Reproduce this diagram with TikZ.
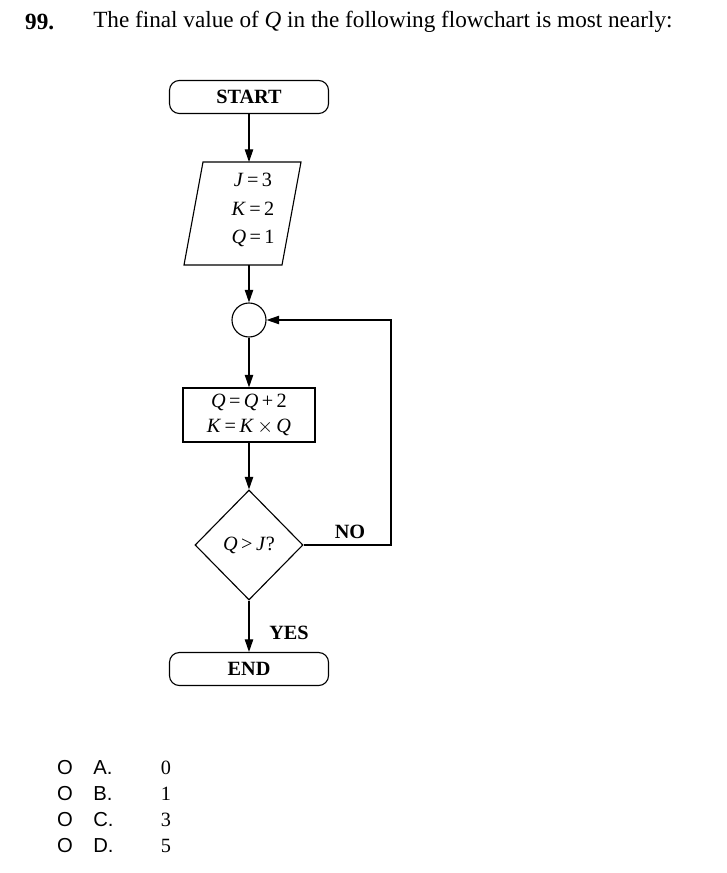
\documentclass[tikz,border=0pt]{standalone}
\usepackage{fontspec}
\setmainfont{Liberation Serif}
\newfontfamily\optfont{Liberation Sans}
\usetikzlibrary{shapes.geometric,arrows.meta}
\newcommand{\vr}[1]{\textit{#1}}
\newcommand{\eqs}{\,=\,}
\tikzset{
  term/.style={draw,rounded corners=7pt,minimum width=159\unitpx,minimum height=33\unitpx,font=\bfseries\Large},
  flow/.style={-{Triangle[length=9pt,width=6pt]},line width=0.8pt},
  opt/.style={anchor=west,font=\optfont\Large}
}
\newlength{\unitpx}\setlength{\unitpx}{0.025cm}
\begin{document}
\begin{tikzpicture}[x=0.025cm,y=-0.025cm,line width=0.8pt]
  \useasboundingbox (0,0) rectangle (726,873);
  % question
  \node[anchor=west,font=\bfseries\fontsize{16.5}{19}\selectfont] (num) at (20,22) {99.};
  \node[anchor=west,font=\fontsize{16.5}{19}\selectfont] (title) at (88,22) {The final value of \vr{Q} in the following flowchart is most nearly:};
  % flowchart
  \node[term] (start) at (249,97) {START};
  \draw (203,162) coordinate (p1) -- (301,162) -- (282,265) -- (184,265) -- cycle;
  \node[align=center,font=\Large,inner sep=0pt] (init) at (253,210) {\vr{J}\eqs3\\[2pt]\vr{K}\eqs2\\[2pt]\vr{Q}\eqs1};
  \coordinate (inittop) at (249,162);
  \coordinate (initbot) at (249,265);
  \node[draw,circle,minimum size=34\unitpx,inner sep=0pt] (join) at (249,320) {};
  \node[draw,minimum width=132\unitpx,minimum height=54\unitpx,align=center,font=\Large,inner sep=1pt] (calc) at (249,415) {\vr{Q}\eqs\vr{Q}\,+\,2\\\vr{K}\eqs\vr{K}\,$\times$\,\vr{Q}};
  \node[draw,diamond,minimum width=108\unitpx,minimum height=110\unitpx,inner sep=0pt,font=\Large] (test) at (249,545) {\vr{Q}\,>\,\vr{J}?};
  \node[term] (end) at (249,669) {END};
  \coordinate (loop1) at (391,545);
  \coordinate (loop2) at (391,320);
  \draw[flow] (start) -- (inittop);
  \draw[flow] (initbot) -- (join);
  \draw[flow] (join) -- (calc);
  \draw[flow] (calc) -- (test);
  \draw[flow] (test) -- (end);
  \draw[flow] (test.east) -- (loop1) -- (loop2) -- (join);
  \node[font=\bfseries\Large] (no) at (350,532) {NO};
  \node[font=\bfseries\Large] (yes) at (289,633) {YES};
  % answers
  \foreach \i/\l/\v in {0/A/0,1/B/1,2/C/3,3/D/5}{
    \node[opt] (o\l) at (52,768+26*\i) {O};
    \node[opt] (l\l) at (88,768+26*\i) {\l.};
    \node[font=\Large] (v\l) at (166,768+26*\i) {\v};
  }
\end{tikzpicture}
\end{document}
